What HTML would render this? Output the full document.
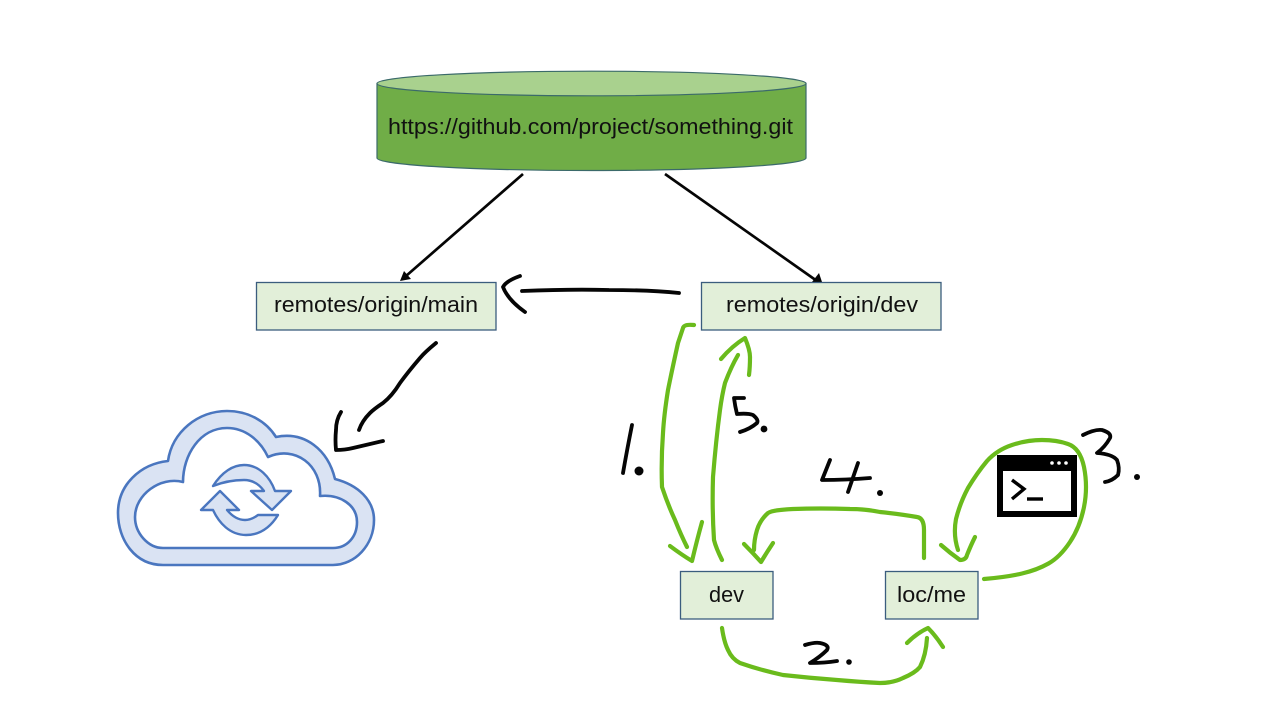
<!DOCTYPE html>
<html lang="en">
<head>
<meta charset="utf-8">
<title>Git remotes diagram</title>
<style>
html,body{margin:0;padding:0;background:#fff;width:1280px;height:720px;overflow:hidden}
svg{display:block}
text{font-family:"Liberation Sans",sans-serif;font-size:22px;fill:#111}
.box{fill:#e2efd9;stroke:#3b5d7e;stroke-width:1.3}
.g{fill:none;stroke:#6abb1c;stroke-width:4.2;stroke-linecap:round;stroke-linejoin:round}
.k{fill:none;stroke:#050505;stroke-width:3.8;stroke-linecap:round;stroke-linejoin:round}
</style>
</head>
<body>
<svg width="1280" height="720" viewBox="0 0 1280 720" xmlns="http://www.w3.org/2000/svg">
<rect width="1280" height="720" fill="#fff"/>

<!-- cylinder -->
<path d="M377 83.5 V158 C377 165 473 170.5 591.5 170.5 C710 170.5 806 165 806 158 V83.5 Z" fill="#70ad47" stroke="#3b6a6a" stroke-width="1.2"/>
<ellipse cx="591.5" cy="83.5" rx="214.5" ry="12.3" fill="#a9d18e" stroke="#3b6a6a" stroke-width="1.2"/>
<text x="388" y="134" textLength="405" lengthAdjust="spacingAndGlyphs">https://github.com/project/something.git</text>

<!-- straight arrows -->
<g stroke="#050505" stroke-width="2.7" fill="none">
<path d="M523 174 L406 276"/>
<path d="M665 174 L817 281"/>
</g>
<path d="M400 281 L404 271 L411 279 Z" fill="#050505"/>
<path d="M823 285 L812 282 L819 273 Z" fill="#050505"/>

<!-- boxes -->
<rect class="box" x="256.5" y="282.5" width="239.5" height="47.5"/>
<text x="274" y="312" textLength="204" lengthAdjust="spacingAndGlyphs">remotes/origin/main</text>
<rect class="box" x="701.5" y="282.5" width="239.5" height="47.5"/>
<text x="726" y="312" textLength="192" lengthAdjust="spacingAndGlyphs">remotes/origin/dev</text>
<rect class="box" x="680.5" y="571.5" width="92.5" height="47.5"/>
<text x="709" y="602" textLength="35" lengthAdjust="spacingAndGlyphs">dev</text>
<rect class="box" x="885.5" y="571.5" width="92.5" height="47.5"/>
<text x="897" y="602" textLength="69" lengthAdjust="spacingAndGlyphs">loc/me</text>

<!-- black hand-drawn arrow between remotes -->
<path class="k" d="M522 291 Q570 289 609 290 Q650 290 679 293"/>
<path class="k" d="M520 276 Q506 281 503 287 Q508 300 525 312"/>

<!-- black hand-drawn arrow to cloud -->
<path class="k" d="M436 343 Q425 352 420 358 Q408 372 400 383 Q392 396 383 403 Q374 409 370 413 Q362 421 359 430"/>
<path class="k" d="M341 412 Q336 420 336 430 Q335 440 336 450 Q345 450 353 448 Q370 444 383 441"/>

<!-- cloud -->
<path fill-rule="evenodd" fill="#dae3f3" stroke="#4a76bf" stroke-width="2.6" stroke-linejoin="round"
 d="M163 565 C135 565 118 540 118 513 C118 485 140 464 168 461 C172 432 198 411 227 411 C248 411 266 421 276 437 C305 431 328 450 335 479 C358 485 374 500 374 520 C374 545 355 565 333 565 Z
    M163 548 C148 548 135 533 135 517 C135 495 160 476 183 482 C183 455 200 428 227 428 C245 428 260 440 268 457 C295 445 322 465 320 496 C340 494 357 505 357 522 C357 537 347 548 333 548 Z"/>
<path fill="#dae3f3" stroke="#4a76bf" stroke-width="2.4" stroke-linejoin="round"
 d="M213 486 C222 472 233 465 244 465 C259 465 270 477 275 491 L291 491 L272 510 L251 491 L264 491 C259 484 252 480 244 480 C234 480 223 482 213 486 Z"/>
<path fill="#dae3f3" stroke="#4a76bf" stroke-width="2.4" stroke-linejoin="round"
 d="M278 515 C270 528 259 535 246 535 C230 535 219 523 213 510 L201 510 L220 491 L239 510 L227 510 C232 516 238 520 245 520 C250 520 254 518 258 515 Z"/>

<!-- terminal icon -->
<path fill-rule="evenodd" fill="#000" d="M997 455 H1077 V517 H997 Z M1003 471 V511 H1071 V471 Z"/>
<circle cx="1052" cy="463" r="1.8" fill="#fff"/>
<circle cx="1059" cy="463" r="1.8" fill="#fff"/>
<circle cx="1066" cy="463" r="1.8" fill="#fff"/>
<path d="M1012 480 L1024 489 L1012 499" fill="none" stroke="#000" stroke-width="3.4"/>
<path d="M1027 499 H1043" fill="none" stroke="#000" stroke-width="3.4"/>

<!-- green curves -->
<path class="g" d="M694 325 Q684 324 683 328 Q679 340 678 343 Q672 370 668 390 Q664 415 663 433 Q661 460 662 487 Q668 505 675 520 Q681 535 687 547"/>
<path class="g" d="M670 546 Q682 555 692 561 Q697 540 702 522"/>

<path class="g" d="M722 560 Q716 548 714 540 Q712 510 713 477 Q716 440 720 410 Q722 395 725 383 Q731 367 738 355"/>
<path class="g" d="M721 359 Q732 346 745 338 Q750 350 750 357 Q750 367 749 375"/>

<path class="g" d="M924 558 Q924 544 924 530 Q924 518 917 517 Q900 514 880 512 Q865 509 850 509 Q820 508 793 509 Q772 510 768 513 Q760 520 757 530 Q754 540 754 550"/>
<path class="g" d="M744 544 Q753 553 761 562 Q767 552 773 543"/>

<path class="g" d="M984 579 Q1007 577 1022 573.5 Q1037 570 1048.5 563.5 Q1060 557 1070 542 Q1080 527 1084 507 Q1088 487 1084 467 Q1080 448 1068 444 Q1057 440 1042 440 Q1027 440 1012 445 Q997 450 987 461 Q977 473 968 488 Q960 503 956 519 Q953 535 958 550"/>
<path class="g" d="M941 545 Q950 553 960 560 Q966 560 967 555 Q971 545 975 537"/>

<path class="g" d="M722 628 Q724 642 728 650 Q732 659 740 663 Q760 670 783 675 Q810 678 837 680 Q860 682 880 683 Q893 683 903 678 Q915 673 920 667 Q926 655 927 638"/>
<path class="g" d="M907 643 Q917 633 928 628 Q936 636 943 647"/>

<!-- handwritten numbers (strokes of the drawing) -->
<path class="k" d="M632 425 Q627 450 623 473"/>
<circle cx="639" cy="471" r="4.5" fill="#050505"/>

<path class="k" d="M744 398 L734 398 Q735 406 737 414 Q748 413 753 415 Q759 420 757 423 Q750 429 740 432"/>
<circle cx="764" cy="429" r="3.4" fill="#050505"/>

<path class="k" d="M830 460 L822 480 Q846 480 870 478 M858 463 L848 492"/>
<circle cx="880" cy="493" r="3" fill="#050505"/>

<path class="k" d="M1083 435 Q1095 429 1102 430 Q1112 433 1110 438 Q1105 447 1097 453 Q1112 454 1117 460 Q1120 468 1118 475 Q1112 481 1105 482"/>
<circle cx="1137" cy="477" r="3" fill="#050505"/>

<path class="k" d="M805 645 Q815 642 820 643 Q830 645 827 650 Q820 657 810 663 Q825 663 837 661"/>
<circle cx="849" cy="662" r="2.8" fill="#050505"/>
</svg>
</body>
</html>
